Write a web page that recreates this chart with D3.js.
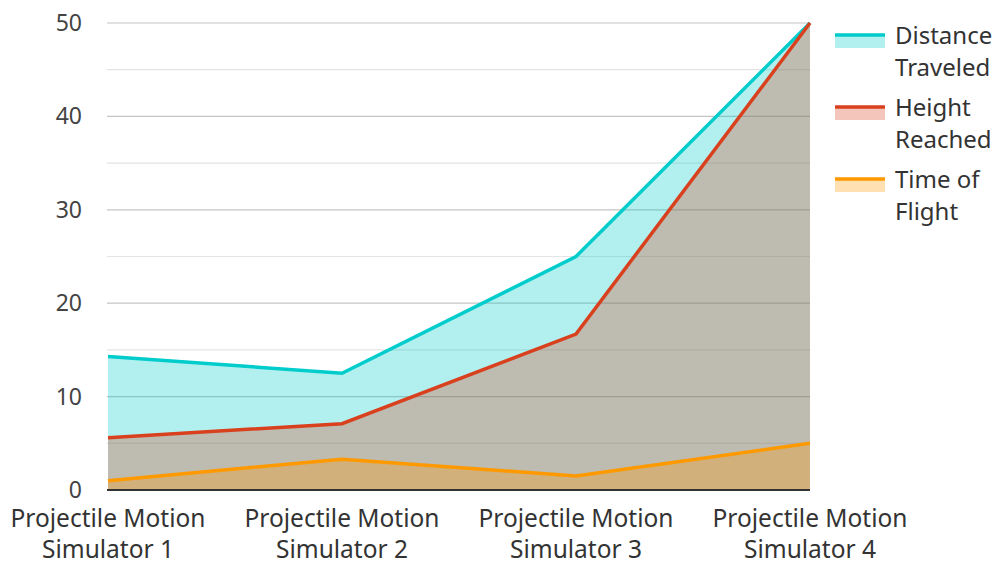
<!DOCTYPE html>
<html>
<head>
<meta charset="utf-8">
<script src="https://cdn.jsdelivr.net/npm/d3@7"></script>
<style>
  html, body { margin: 0; padding: 0; background: #fff; }
  svg text { font-family: "Noto Sans", "Open Sans", sans-serif; }
</style>
</head>
<body>
<svg id="chart" width="997" height="562"></svg>
<script>
const categories = ["Projectile Motion Simulator 1", "Projectile Motion Simulator 2", "Projectile Motion Simulator 3", "Projectile Motion Simulator 4"];
const categoryLines = [["Projectile Motion", "Simulator 1"], ["Projectile Motion", "Simulator 2"], ["Projectile Motion", "Simulator 3"], ["Projectile Motion", "Simulator 4"]];
const distanceTraveled = [14.3, 12.5, 25.0, 50.0];
const heightReached = [5.6, 7.1, 16.7, 50.0];
const timeOfFlight = [1.0, 3.3, 1.5, 5.0];
const yTicks = [0, 10, 20, 30, 40, 50];
const yMinorTicks = [5, 15, 25, 35, 45];
const seriesNames = [["Distance", "Traveled"], ["Height", "Reached"], ["Time of", "Flight"]];
const seriesColors = ["#00cccc", "#d9411e", "#ff9900"];

const series = [distanceTraveled, heightReached, timeOfFlight];

const svg = d3.select("#chart");
const plotLeft = 108, plotRight = 810, plotTop = 23, plotBottom = 490;

const x = d3.scalePoint().domain(categories).range([plotLeft, plotRight]);
const y = d3.scaleLinear().domain([0, 50]).range([plotBottom, plotTop]);

// gridlines
svg.append("g").selectAll("line").data(yMinorTicks).join("line")
  .attr("x1", plotLeft - 1).attr("x2", plotRight)
  .attr("y1", d => y(d)).attr("y2", d => y(d))
  .attr("stroke", "#e4e4e4").attr("stroke-width", 1.2);
svg.append("g").selectAll("line").data(yTicks.filter(d => d > 0)).join("line")
  .attr("x1", plotLeft - 1).attr("x2", plotRight)
  .attr("y1", d => y(d)).attr("y2", d => y(d))
  .attr("stroke", "#c4c4c4").attr("stroke-width", 1.2);

// areas and lines
const area = d3.area()
  .x((d, i) => x(categories[i]))
  .y0(y(0))
  .y1(d => y(d));
const line = d3.line()
  .x((d, i) => x(categories[i]))
  .y(d => y(d));

series.forEach((vals, k) => {
  svg.append("path").datum(vals)
    .attr("d", area)
    .attr("fill", seriesColors[k])
    .attr("fill-opacity", 0.3);
});
series.forEach((vals, k) => {
  svg.append("path").datum(vals)
    .attr("d", line)
    .attr("fill", "none")
    .attr("stroke", seriesColors[k])
    .attr("stroke-width", 3.5)
    .attr("stroke-linejoin", "miter");
});

// y axis labels
svg.append("g").selectAll("text").data(yTicks).join("text")
  .attr("x", 82).attr("y", d => y(d) + 8)
  .attr("text-anchor", "end")
  .attr("font-size", 23)
  .attr("fill", "#444")
  .text(d => d);

// x axis baseline
svg.append("line")
  .attr("x1", plotLeft - 1).attr("x2", plotRight)
  .attr("y1", plotBottom).attr("y2", plotBottom)
  .attr("stroke", "#333").attr("stroke-width", 2);

// x labels
const xl = svg.append("g").selectAll("text").data(categories).join("text")
  .attr("x", d => x(d))
  .attr("text-anchor", "middle")
  .attr("font-size", 24.5)
  .attr("fill", "#333");
xl.each(function(d, i) {
  const t = d3.select(this);
  categoryLines[i].forEach((ln, j) => {
    t.append("tspan").attr("x", x(d)).attr("y", 527 + j * 31).text(ln);
  });
});

// legend
seriesNames.forEach((nm, k) => {
  const gy = 35 + k * 72;
  const g = svg.append("g");
  g.append("rect").attr("x", 835).attr("y", gy).attr("width", 50).attr("height", 13)
    .attr("fill", seriesColors[k]).attr("fill-opacity", 0.3);
  g.append("line").attr("x1", 835).attr("x2", 885).attr("y1", gy).attr("y2", gy)
    .attr("stroke", seriesColors[k]).attr("stroke-width", 3.5);
  nm.forEach((ln, j) => {
    g.append("text").attr("x", 895).attr("y", gy + 9 + j * 32)
      .attr("font-size", 24).attr("fill", "#333").text(ln);
  });
});
</script>
</body>
</html>
